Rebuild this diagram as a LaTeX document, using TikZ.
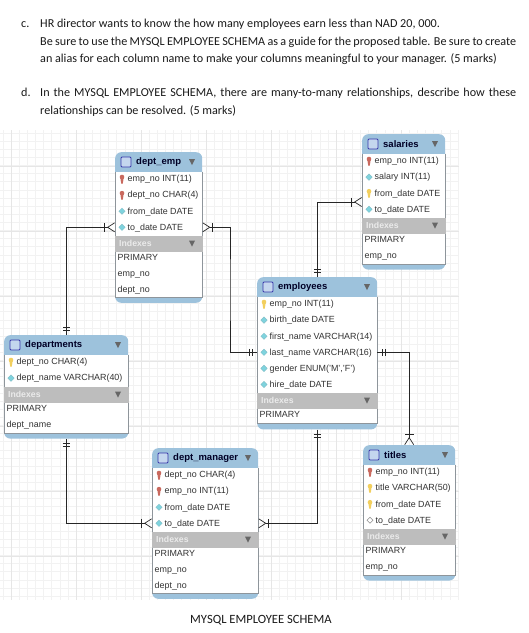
\documentclass[tikz,border=0pt]{standalone}
\usepackage{fontspec}
\setmainfont{Liberation Sans}
\newfontfamily\docfont{Carlito}
\usetikzlibrary{arrows.meta,decorations.markings}
\definecolor{headblue}{HTML}{9DC2DC}
\definecolor{bandgrey}{HTML}{BDBDBD}
\definecolor{sidegrey}{HTML}{8E959B}
\definecolor{gridminor}{HTML}{F2F2F2}
\definecolor{gridmajor}{HTML}{E6E6E6}
\definecolor{keyred}{HTML}{C9695E}
\definecolor{keygold}{HTML}{F2CF5E}
\definecolor{dotcyan}{HTML}{7FD3DE}
\definecolor{iconblue}{HTML}{C4D6EE}
\newcommand{\ertable}[9]{
  \pgfmathsetmacro{\bandy}{#3+19.5+#6*16}
  \pgfmathsetmacro{\tabh}{19.5+#6*16+16+#7*15.2+5.5}
  \node (#1) [tablebox, minimum width=#4pt, minimum height=\tabh pt] at (#2,#3) {};
  \fill[white] (#2,#3+19.5) rectangle (#2+#4,\bandy);
  \fill[bandgrey] (#2-.5,\bandy) rectangle (#2+#4+.5,\bandy+16);
  \fill[white] (#2,\bandy+16) rectangle (#2+#4,\bandy+16+#7*15.2);
  \draw[bodyline] (#2,#3+19.5) -- (#2,\bandy) (#2+#4,#3+19.5) -- (#2+#4,\bandy);
  \draw[bodyline] (#2,\bandy+16) -- (#2,\bandy+16+#7*15.2) -- (#2+#4,\bandy+16+#7*15.2) -- (#2+#4,\bandy+16);
  \draw[tableicon] (#2+6,#3+5) rectangle (#2+16,#3+15);
  \node (#1head) [headtext] at (#2+21,#3+10) {#5};
  \fill[trianglegrey] (#2+#4-13,#3+7) -- (#2+#4-7,#3+7) -- (#2+#4-10,#3+13) -- cycle;
  \fill[trianglegrey] (#2+#4-13,\bandy+5) -- (#2+#4-7,\bandy+5) -- (#2+#4-10,\bandy+11) -- cycle;
  \node (#1band) [bandtext] at (#2+4,\bandy+8) {Indexes};
  \foreach \kind/\txt [count=\i] in {#8} {
    \pgfmathsetmacro{\rowy}{#3+27+(\i-1)*16.1}
    \pic at (#2+7,\rowy) {\kind};
    \node (#1\i) [rowtext] at (#2+12.5,\rowy) {\txt};
  }
  \foreach \txt [count=\i] in {#9} {
    \pgfmathsetmacro{\rowy}{\bandy+22.5+(\i-1)*15.6}
    \node (#1idx\i) [rowtext] at (#2+2.5,\rowy) {\txt};
  }
}
\begin{document}
\begin{tikzpicture}[x=1pt, y=-1pt,
      tablebox/.style={rectangle, fill=headblue, rounded corners=6pt, inner sep=0pt, anchor=north west},
      bodyline/.style={draw=sidegrey, line width=.8pt},
      tableicon/.style={draw=black!20!blue!55!gray, line width=.9pt, fill=iconblue, rounded corners=1pt},
      trianglegrey/.style={fill=black!60},
      headtext/.style={anchor=west, inner sep=0pt, font=\fontsize{9.5}{11}\selectfont\bfseries, text=black!85!blue},
      bandtext/.style={anchor=west, inner sep=0pt, font=\fontsize{8.7}{10}\selectfont\bfseries, text=white!92!black},
      rowtext/.style={anchor=west, inner sep=0pt, text height=6.4pt, text depth=.8pt, font=\fontsize{8.9}{10}\selectfont, text=black!80},
      docline/.style={anchor=base west, inner sep=0pt, font=\fontsize{12.15}{14}\docfont, text=black!90},
      redkey/.pic={\fill[keyred] (0,-2) circle (2.3pt); \fill[keyred] (-1.7,-1.5) -- (1.7,-1.5) -- (.8,4.5) -- (-.8,4.5) -- cycle;},
      goldkey/.pic={\fill[keygold] (0,-2) circle (2.3pt); \fill[keygold] (-1.7,-1.5) -- (1.7,-1.5) -- (.8,4.5) -- (-.8,4.5) -- cycle;},
      cyandot/.pic={\draw[fill=dotcyan, draw=dotcyan!70!gray, line width=.3pt] (-3.2,0) -- (0,-3.2) -- (3.2,0) -- (0,3.2) -- cycle;},
      whitedot/.pic={\draw[fill=white, draw=black!45, line width=.5pt] (-3,0) -- (0,-3) -- (3,0) -- (0,3) -- cycle;},
      relline/.style={draw=black!85, line width=.8pt,
        -{Bar[width=9pt,line width=.7pt,sep=2pt] Straight Barb[reversed,length=7pt,width=9pt,line width=.7pt]},
        postaction={decorate, decoration={markings,
          mark=at position 5pt with {\draw[-, line width=.7pt] (0,-3.5pt) -- (0,3.5pt);},
          mark=at position 7.5pt with {\draw[-, line width=.7pt] (0,-3.5pt) -- (0,3.5pt);}}}}]
      \useasboundingbox (0,0) rectangle (529,633);
      \foreach \n in {0,...,56} \draw[gridminor, line width=.6pt] ({3+\n*8.125},130) -- ({3+\n*8.125},600);
      \foreach \n in {0,...,57} \draw[gridminor, line width=.6pt] (0,{133+\n*8.125}) -- (459,{133+\n*8.125});
      \foreach \n in {0,...,6} \draw[gridmajor, line width=.6pt] ({11+\n*65},130) -- ({11+\n*65},600);
      \foreach \n in {0,...,6} \draw[gridmajor, line width=.6pt] (0,{166+\n*65}) -- (459,{166+\n*65});

      \node (labc) [docline] at (21,27) {c.};
      \node (linec1) [docline] at (40,27) {HR director wants to know the how many employees earn less than NAD 20, 000.};
      \node (linec2) [docline] at (40,45) {\makebox[476pt][s]{Be sure to use the MYSQL EMPLOYEE SCHEMA as a guide for the proposed table. Be sure to create}};
      \node (linec3) [docline] at (40,62) {an alias for each column name to make your columns meaningful to your manager. (5 marks)};
      \node (labd) [docline] at (21,96) {d.};
      \node (lined1) [docline] at (40,96) {\makebox[476pt][s]{In the MYSQL EMPLOYEE SCHEMA, there are many-to-many relationships, describe how these}};
      \node (lined2) [docline] at (40,114) {relationships can be resolved. (5 marks)};
      \node (caption) [docline, font=\fontsize{12.6}{14}\docfont] at (190,623) {MYSQL EMPLOYEE SCHEMA};

      \ertable{deptemp}{115}{152}{87}{dept\_emp}{4}{3}{redkey/{emp\_no INT(11)},redkey/{dept\_no CHAR(4)},cyandot/{from\_date DATE},cyandot/{to\_date DATE}}{PRIMARY,emp\_no,dept\_no}
      \ertable{salaries}{362}{134}{83}{salaries}{4}{2}{redkey/{emp\_no INT(11)},cyandot/{salary INT(11)},goldkey/{from\_date DATE},cyandot/{to\_date DATE}}{PRIMARY,emp\_no}
      \ertable{employees}{257}{277}{120}{employees}{6}{1}{goldkey/{emp\_no INT(11)},cyandot/{birth\_date DATE},cyandot/{first\_name VARCHAR(14)},cyandot/{last\_name VARCHAR(16)},cyandot/{gender ENUM('M','F')},cyandot/{hire\_date DATE}}{PRIMARY}
      \ertable{departments}{4}{335}{124}{departments}{2}{2}{goldkey/{dept\_no CHAR(4)},cyandot/{dept\_name VARCHAR(40)}}{PRIMARY,dept\_name}
      \ertable{deptmgr}{152}{448}{106}{dept\_manager}{4}{3}{redkey/{dept\_no CHAR(4)},redkey/{emp\_no INT(11)},cyandot/{from\_date DATE},cyandot/{to\_date DATE}}{PRIMARY,emp\_no,dept\_no}
      \ertable{titles}{363}{445}{92}{titles}{4}{2}{redkey/{emp\_no INT(11)},goldkey/{title VARCHAR(50)},goldkey/{from\_date DATE},whitedot/{to\_date DATE}}{PRIMARY,emp\_no}

      \coordinate (midbend) at (230,290);
      \coordinate (salend) at (362,202);
      \draw[relline] (employees.west |- employees4) -| (midbend) |- (deptemp.east |- deptemp4);
      \draw[relline] (departments.north) |- (deptemp.west |- deptemp4);
      \draw[relline] (departments.south) |- (deptmgr.west |- deptmgr4);
      \draw[relline] (employees.north) |- (salend);
      \draw[relline] (employees.south) |- (deptmgr.east |- deptmgr4);
      \draw[relline] (employees.east |- employees4) -| (titles.north);
    \end{tikzpicture}
\end{document}
